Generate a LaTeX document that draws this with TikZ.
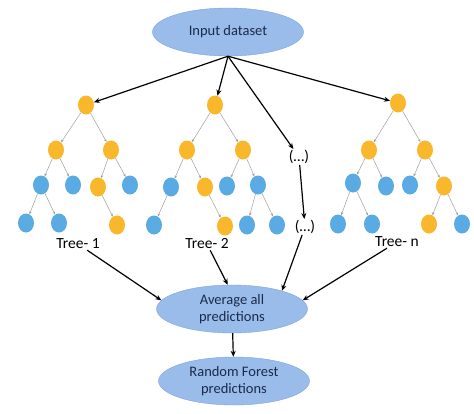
\documentclass[tikz,border=0pt]{standalone}
\usepackage{fontspec}
\setmainfont{Carlito}
\usetikzlibrary{arrows.meta,positioning,shapes.geometric}
\definecolor{leafblue}{HTML}{5AAAE3}
\definecolor{splitorange}{HTML}{F9B82B}
\definecolor{stageblue}{HTML}{9ABCEB}
\definecolor{stageedge}{HTML}{7FA4DB}
\definecolor{stagetext}{HTML}{1B2A4A}
\tikzset{
  stage/.style={ellipse, draw=stageedge, fill=stageblue, minimum width=151pt, minimum height=48pt, inner sep=1pt, align=center, text=stagetext, font=\fontsize{14.5}{17}\selectfont},
  split/.style={ellipse, fill=splitorange, minimum width=16pt, minimum height=19pt, inner sep=0pt},
  leaf/.style={ellipse, fill=leafblue, minimum width=16pt, minimum height=19pt, inner sep=0pt},
  branch/.style={-{Stealth[length=3pt,width=2.5pt]}, gray!75, line width=0.5pt},
  arrow/.style={-{Stealth[length=6pt,width=5pt]}, line width=1.2pt},
  treelabel/.style={inner sep=1pt, font=\fontsize{15.5}{18}\selectfont}
}

\begin{document}
\begin{tikzpicture}[x=1pt,y=-1pt]
  \useasboundingbox (0,0) rectangle (474,413);
  \node[stage] (input) at (228,32) {Input dataset};

  % tree 1
  \node[split] (t1r) at (86,105) {};
  \node[split] (t1a) at (56,150) {};
  \node[split] (t1b) at (111,150) {};
  \node[leaf] (t1c) at (41,185) {};
  \node[leaf] (t1d) at (73,185) {};
  \node[split] (t1e) at (98,187) {};
  \node[leaf] (t1f) at (130,185) {};
  \node[leaf] (t1g) at (26,223) {};
  \node[leaf] (t1h) at (59,223) {};
  \node[split] (t1i) at (117,225) {};
  \path[branch] (t1r) edge (t1a) edge (t1b)
    (t1a) edge (t1c) edge (t1d) (t1b) edge (t1e) edge (t1f)
    (t1c) edge (t1g) edge (t1h) (t1e) edge (t1i);
  \node[treelabel] (lab1) at (78,244) {Tree- 1};

  % tree 2
  \node[split] (t2r) at (215,105) {};
  \node[split] (t2a) at (187,150) {};
  \node[split] (t2b) at (243,150) {};
  \node[leaf] (t2c) at (171,187) {};
  \node[split] (t2d) at (205,187) {};
  \node[leaf] (t2e) at (227,186) {};
  \node[leaf] (t2f) at (258,185) {};
  \node[leaf] (t2g) at (154,225) {};
  \node[split] (t2h) at (225,226) {};
  \node[leaf] (t2i) at (247,225) {};
  \node[leaf] (t2j) at (277,225) {};
  \path[branch] (t2r) edge (t2a) edge (t2b)
    (t2a) edge (t2c) edge (t2d) (t2b) edge (t2e) edge (t2f)
    (t2c) edge (t2g) (t2d) edge (t2h) (t2f) edge (t2i) edge (t2j);
  \node[treelabel] (lab2) at (207,244) {Tree- 2};

  % the trees in between
  \node[treelabel] (dots1) at (299,157) {(\ldots)};
  \node[treelabel] (dots2) at (305,227) {(\ldots)};

  % tree n
  \node[split] (tnr) at (398,103) {};
  \node[split] (tna) at (369,150) {};
  \node[split] (tnb) at (425,150) {};
  \node[leaf] (tnc) at (353,183) {};
  \node[leaf] (tnd) at (386,186) {};
  \node[leaf] (tne) at (410,185) {};
  \node[split] (tnf) at (444,186) {};
  \node[leaf] (tng) at (338,224) {};
  \node[leaf] (tnh) at (372,224) {};
  \node[split] (tni) at (429,224) {};
  \node[leaf] (tnj) at (462,224) {};
  \path[branch] (tnr) edge (tna) edge (tnb)
    (tna) edge (tnc) edge (tnd) (tnb) edge (tne) edge (tnf)
    (tnc) edge (tng) edge (tnh) (tnf) edge (tni) edge (tnj);
  \node[treelabel] (labn) at (397,242) {Tree- n};

  \node[stage] (avg) at (232,309) {Average all\\predictions};
  \node[stage] (rf) at (234,381) {Random Forest\\predictions};

  \draw[arrow] (input.south) -- (t1r);
  \draw[arrow] (input.south) -- (t2r);
  \draw[arrow] (input.south) -- (dots1);
  \draw[arrow] (input.south) -- (tnr);
  \draw[arrow] (dots1) -- (dots2);
  \draw[arrow] (lab1) -- (avg.173);
  \draw[arrow] (lab2) -- (avg.100);
  \draw[arrow] (dots2) -- (avg.20);
  \draw[arrow] (labn) -- (avg.7);
  \draw[arrow] (avg) -- (rf);
\end{tikzpicture}
\end{document}
